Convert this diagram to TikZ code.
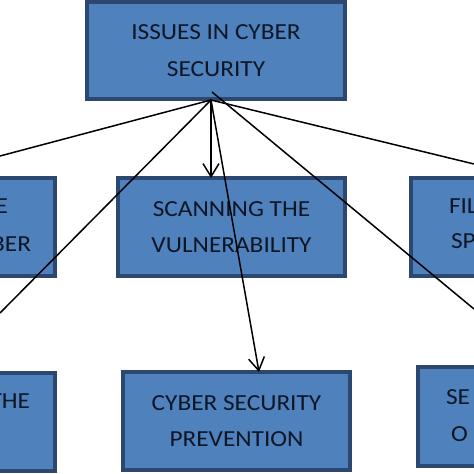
\documentclass[tikz,border=0pt]{standalone}
\usepackage{fontspec}
\setmainfont{Carlito}[FakeStretch=1.1]
\usetikzlibrary{arrows.meta}
\definecolor{boxfill}{HTML}{4F81BD}
\definecolor{boxline}{HTML}{2C4770}
\definecolor{txt}{HTML}{0E1626}
\begin{document}
\begin{tikzpicture}[x=1pt,y=-1pt,
  box/.style={draw=boxline, fill=boxfill, line width=4pt, inner sep=0pt, outer sep=0pt,
    minimum width=227pt, minimum height=98pt, text=txt,
    font=\fontsize{23}{36.5}\selectfont, align=center},
  frag/.style={text=txt, font=\fontsize{23}{27}\selectfont, inner sep=0pt, outer sep=0pt},
  conn/.style={draw=black, line width=1.5pt},
  arr/.style={conn, -{Straight Barb[length=13pt,width=16pt]}}]
\useasboundingbox (0,0) rectangle (474,474);
\clip (0,0) rectangle (474,474);
\fill[white] (0,0) rectangle (474,474);
% boxes
\node[box, minimum width=258pt, minimum height=97pt] (top) at (216,50.5) {ISSUES IN CYBER\\SECURITY};
\node[box] (midL) at (-58.5,227) {};
\node[box] (mid) at (231.5,227) {SCANNING THE\\VULNERABILITY};
\node[box] (midR) at (524.5,226.5) {};
\node[box] (botL) at (-58.5,422) {};
\node[box] (botM) at (236.5,421) {CYBER SECURITY\\PREVENTION};
\node[box, minimum height=99pt] (botR) at (531.5,416.5) {};
% visible text fragments of the cut boxes
\node[frag, anchor=base east] (fL1) at (8,213) {E};
\node[frag, anchor=base east] (fL2) at (31,251) {BER};
\node[frag, anchor=base east] (fL3) at (30,408) {THE};
\node[frag, anchor=base west] (fR1) at (449,213) {FIL};
\node[frag, anchor=base west] (fR2) at (451,248) {SP};
\node[frag, anchor=base west] (fR3) at (446,404) {SE};
\node[frag, anchor=base west] (fR4) at (451,441) {O};
% connectors
\coordinate (o) at (211,100);
\coordinate (o2) at (212,92);
\coordinate (eL1) at (0,156);
\coordinate (eL2) at (0,313);
\coordinate (eR1) at (474,164);
\coordinate (eR2) at (474,309);
\draw[conn] (o) -- (eL1);
\draw[conn] (o) -- (eL2);
\draw[conn] (o) -- (eR1);
\draw[conn] (o2) -- (eR2);
\draw[arr] (o) -- (o |- mid.north);
\draw[arr] (o) -- ([xshift=22.5pt]botM.north);
\end{tikzpicture}
\end{document}
